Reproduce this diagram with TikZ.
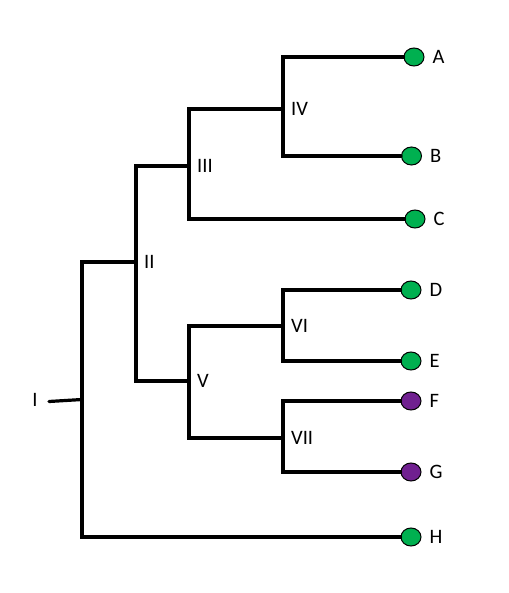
\documentclass[tikz,border=0pt]{standalone}
\usepackage{fontspec}
\setmainfont{Carlito}
\usetikzlibrary{shapes.geometric}
\definecolor{leafgreen}{RGB}{0,176,80}
\definecolor{leafpurple}{RGB}{112,32,144}
\begin{document}
\begin{tikzpicture}[x=1pt, y=-1pt,
        branch/.style={line width=3.2pt, line cap=round},
        lbl/.style={font=\fontsize{20.5}{20.5}\selectfont, inner sep=0pt, label distance=8pt},
        leaf/.style={ellipse, draw=black, line width=1pt, inner sep=0pt, minimum width=20pt, minimum height=18pt}]
    \useasboundingbox (0,0) rectangle (508,593);
        \coordinate (root) at (49,401.5);
        \node [lbl] (Ilbl) at (35,400) {I};
        \coordinate (I) at (82,399.5);
        \coordinate [label={[lbl]right:II}] (II) at (136,262);
        \coordinate [label={[lbl]right:III}] (III) at (189,166);
        \coordinate [label={[lbl]right:IV}] (IV) at (283,109);
        \coordinate [label={[lbl]right:V}] (V) at (189,381);
        \coordinate [label={[lbl]right:VI}] (VI) at (283,326);
        \coordinate [label={[lbl]right:VII}] (VII) at (283,438);
        \node [leaf, fill=leafgreen, label={[lbl]right:A}] (A) at (414,57) {};
        \node [leaf, fill=leafgreen, label={[lbl]right:B}] (B) at (411.5,156) {};
        \node [leaf, fill=leafgreen, label={[lbl]right:C}] (C) at (415,219) {};
        \node [leaf, fill=leafgreen, label={[lbl]right:D}] (D) at (411,290) {};
        \node [leaf, fill=leafgreen, label={[lbl]right:E}] (E) at (411,361) {};
        \node [leaf, fill=leafpurple, label={[lbl]right:F}] (F) at (411,401) {};
        \node [leaf, fill=leafpurple, label={[lbl]right:G}] (G) at (411,472) {};
        \node [leaf, fill=leafgreen, label={[lbl]right:H}] (H) at (411,537) {};

        \draw [branch] (root) -- (I);
        \draw [branch] (I) |- (II); \draw [branch] (I) |- (H);
        \draw [branch] (II) |- (III); \draw [branch] (II) |- (V);
        \draw [branch] (III) |- (IV); \draw [branch] (III) |- (C);
        \draw [branch] (IV) |- (A); \draw [branch] (IV) |- (B);
        \draw [branch] (V) |- (VI); \draw [branch] (V) |- (VII);
        \draw [branch] (VI) |- (D); \draw [branch] (VI) |- (E);
        \draw [branch] (VII) |- (F); \draw [branch] (VII) |- (G);
    \end{tikzpicture}
\end{document}
